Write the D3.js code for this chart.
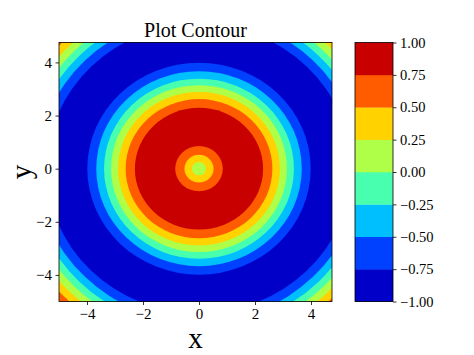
<!DOCTYPE html>
<html>
<head>
<meta charset="utf-8">
<script src="https://cdn.jsdelivr.net/npm/d3@7"></script>
<style>
  html, body { margin: 0; padding: 0; background: #fff; }
  svg text { font-family: "Liberation Serif", "Times New Roman", serif; fill: #000; }
</style>
</head>
<body>
<svg id="chart" width="474" height="355"></svg>
<script>
// ---- data ----
const levels = [-1, -0.75, -0.5, -0.25, 0, 0.25, 0.5, 0.75, 1];
const bandColors = ["#0000c8", "#0040ff", "#00bfff", "#48ffaf", "#afff48", "#ffd200", "#ff5c00", "#c80000"];
// radius (in data units) of each contour boundary, outermost first
const ringRadii = [7.13, 6.81, 6.54, 6.28, 6.03, 5.76, 5.44, 3.99, 3.67, 3.39, 3.14, 2.89, 2.62, 2.29, 0.85, 0.52, 0.25];
// band (index into bandColors) filling the inside of each boundary
const ringBand  = [6, 5, 4, 3, 2, 1, 0, 1, 2, 3, 4, 5, 6, 7, 6, 5, 4];
const outerBand = 7;
const xTicks = [-4, -2, 0, 2, 4];
const yTicks = [-4, -2, 0, 2, 4];
const xDomain = [-5, 4.75];
const yDomain = [-5, 4.75];

// ---- layout ----
const svg = d3.select("#chart");
const plot = {left: 59, right: 332, top: 42.5, bottom: 301.5};
const cbar = {left: 355, right: 393, top: 42.5, bottom: 301.5};

const x = d3.scaleLinear().domain(xDomain).range([plot.left, plot.right]);
const y = d3.scaleLinear().domain(yDomain).range([plot.bottom, plot.top]);

svg.append("defs").append("clipPath").attr("id", "plotClip")
  .append("rect")
  .attr("x", plot.left).attr("y", plot.top)
  .attr("width", plot.right - plot.left).attr("height", plot.bottom - plot.top);

const g = svg.append("g").attr("clip-path", "url(#plotClip)");
g.append("rect")
  .attr("x", plot.left).attr("y", plot.top)
  .attr("width", plot.right - plot.left).attr("height", plot.bottom - plot.top)
  .attr("fill", bandColors[outerBand]);

g.selectAll("ellipse.ring")
  .data(ringRadii.map((r, i) => ({r, band: ringBand[i]})))
  .join("ellipse")
  .attr("class", "ring")
  .attr("cx", x(0)).attr("cy", y(0))
  .attr("rx", d => x(d.r) - x(0))
  .attr("ry", d => y(0) - y(d.r))
  .attr("fill", d => bandColors[d.band]);

// frame
svg.append("rect")
  .attr("x", plot.left).attr("y", plot.top)
  .attr("width", plot.right - plot.left).attr("height", plot.bottom - plot.top)
  .attr("fill", "none").attr("stroke", "#000").attr("stroke-width", 0.8);

// axes
const fmtInt = d3.format("d");
const xAxis = svg.append("g").attr("transform", `translate(0,${plot.bottom})`)
  .call(d3.axisBottom(x).tickValues(xTicks).tickFormat(fmtInt).tickSize(3.5).tickPadding(3.5));
const yAxis = svg.append("g").attr("transform", `translate(${plot.left},0)`)
  .call(d3.axisLeft(y).tickValues(yTicks).tickFormat(fmtInt).tickSize(3.5).tickPadding(3.5));
[xAxis, yAxis].forEach(a => {
  a.select(".domain").remove();
  a.selectAll(".tick line").attr("stroke", "#000").attr("stroke-width", 0.8);
  a.selectAll(".tick text").style("font-size", "15px").style("font-family", '"Liberation Serif", "Times New Roman", serif');
});

// title and labels
svg.append("text")
  .attr("x", (plot.left + plot.right) / 2).attr("y", 36.5)
  .attr("text-anchor", "middle").style("font-size", "20px")
  .text("Plot Contour");
svg.append("text")
  .attr("x", (plot.left + plot.right) / 2).attr("y", 348)
  .attr("text-anchor", "middle").style("font-size", "29px")
  .text("x");
svg.append("text")
  .attr("transform", `translate(31,${(plot.top + plot.bottom) / 2}) rotate(-90)`)
  .attr("text-anchor", "middle").style("font-size", "29px")
  .text("y");

// colorbar
const cy = d3.scaleLinear().domain([-1, 1]).range([cbar.bottom, cbar.top]);
svg.append("g").selectAll("rect")
  .data(bandColors.map((c, i) => ({lo: levels[i], hi: levels[i + 1], c})))
  .join("rect")
  .attr("x", cbar.left).attr("width", cbar.right - cbar.left)
  .attr("y", d => cy(d.hi)).attr("height", d => cy(d.lo) - cy(d.hi) + 0.3)
  .attr("fill", d => d.c);
svg.append("rect")
  .attr("x", cbar.left).attr("y", cbar.top)
  .attr("width", cbar.right - cbar.left).attr("height", cbar.bottom - cbar.top)
  .attr("fill", "none").attr("stroke", "#000").attr("stroke-width", 0.8);
const cAxis = svg.append("g").attr("transform", `translate(${cbar.right},0)`)
  .call(d3.axisRight(cy).tickValues(levels).tickFormat(d3.format(".2f")).tickSize(3.5).tickPadding(3.5));
cAxis.select(".domain").remove();
cAxis.selectAll(".tick line").attr("stroke", "#000").attr("stroke-width", 0.8);
cAxis.selectAll(".tick text").style("font-size", "14.5px").style("font-family", '"Liberation Serif", "Times New Roman", serif');
</script>
</body>
</html>
